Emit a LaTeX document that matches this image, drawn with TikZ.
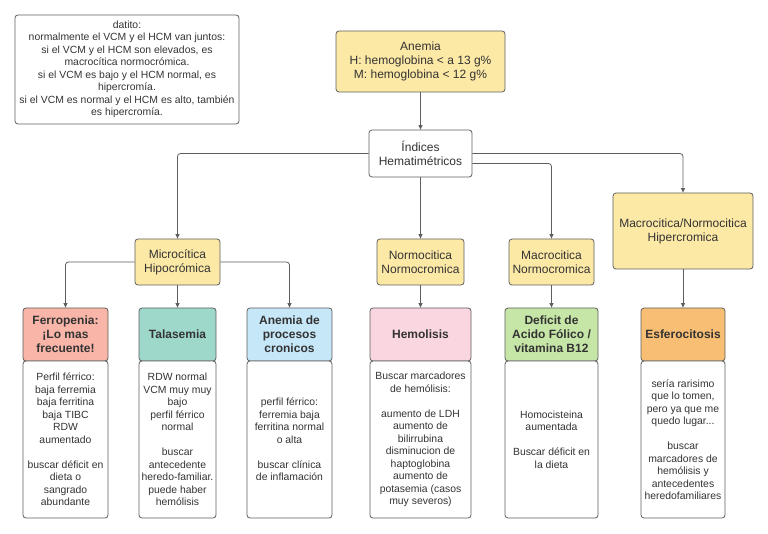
\documentclass[tikz,border=0pt]{standalone}
\usepackage{fontspec}
\setmainfont{Liberation Sans}
\usetikzlibrary{arrows.meta}
\definecolor{linec}{HTML}{5E5E5E}
\definecolor{txt}{HTML}{333333}
\definecolor{yel}{HTML}{FDE9A6}
\definecolor{salmon}{HTML}{F8B5A8}
\definecolor{teal}{HTML}{9DD8CB}
\definecolor{lblue}{HTML}{C6E7F8}
\definecolor{pink}{HTML}{FAD7E0}
\definecolor{lgreen}{HTML}{C6E6A8}
\definecolor{orng}{HTML}{F7BE74}
\tikzset{
  box/.style={draw=linec, line width=0.8pt, rounded corners=3pt, align=center, inner sep=0pt, text=txt, font=\fontsize{12}{14}\selectfont},
  small/.style={font=\fontsize{10.4}{12.5}\selectfont},
  head/.style={box, font=\bfseries\fontsize{12}{14}\selectfont},
  arr/.style={draw=linec, line width=0.8pt, rounded corners=3pt, -{Triangle[length=4.5pt,width=4pt]}},
}
\begin{document}
\begin{tikzpicture}[x=1pt,y=-1pt]
\useasboundingbox (0,0) rectangle (768,534);
% note
\node[box, small, minimum width=224pt, minimum height=109pt] (note) at (127,69.5)
 {datito:\\normalmente el VCM y el HCM van juntos:\\si el VCM y el HCM son elevados, es\\macrocítica normocrómica.\\si el VCM es bajo y el HCM normal, es\\hipercromía.\\si el VCM es normal y el HCM es alto, también\\es hipercromía.};
% top
\node[box, fill=yel, minimum width=169pt, minimum height=61pt] (anemia) at (420.5,61.5)
 {Anemia\\H: hemoglobina < a 13 g\%\\M: hemoglobina < 12 g\%};
\node[box, fill=white, minimum width=103pt, minimum height=47pt] (ind) at (420.5,153.5)
 {Índices\\Hematimétricos};
% middle
\node[box, fill=yel, minimum width=85pt, minimum height=46pt] (mic) at (177.5,262) {Microcítica\\Hipocrómica};
\node[box, fill=yel, minimum width=87pt, minimum height=46pt] (nor) at (420.5,262) {Normocitica\\Normocromica};
\node[box, fill=yel, minimum width=85pt, minimum height=46pt] (mac) at (551.5,262) {Macrocitica\\Normocromica};
\node[box, fill=yel, minimum width=140pt, minimum height=76pt] (hyp) at (683,231) {Macrocitica/Normocitica\\Hipercromica};
% bottom headers
\node[head, fill=salmon, minimum width=85pt, minimum height=53pt] (ferh) at (65.5,334.5) {Ferropenia:\\¡Lo mas\\frecuente!};
\node[head, fill=teal, minimum width=77pt, minimum height=53pt] (talh) at (177.5,334.5) {Talasemia};
\node[head, fill=lblue, minimum width=85pt, minimum height=53pt] (apch) at (289.5,334.5) {Anemia de\\procesos\\cronicos};
\node[head, fill=pink, minimum width=101pt, minimum height=53pt] (hemh) at (420.5,334.5) {Hemolisis};
\node[head, fill=lgreen, minimum width=93pt, minimum height=53pt] (defh) at (551.5,334.5) {Deficit de\\Acido Fólico /\\vitamina B12};
\node[head, fill=orng, minimum width=84pt, minimum height=53pt] (esfh) at (683,334.5) {Esferocitosis};
% bottom bodies
\node[box, small, fill=white, minimum width=85pt, minimum height=157pt] (ferb) at (65.5,439.5)
 {Perfil férrico:\\baja ferremia\\baja ferritina\\baja TIBC\\RDW\\aumentado\\[12.5pt]buscar déficit en\\dieta o\\sangrado\\abundante};
\node[box, small, fill=white, minimum width=77pt, minimum height=157pt] (talb) at (177.5,439.5)
 {RDW normal\\VCM muy muy\\bajo\\perfil férrico\\normal\\[12.5pt]buscar\\antecedente\\heredo-familiar.\\puede haber\\hemólisis};
\node[box, small, fill=white, minimum width=85pt, minimum height=157pt] (apcb) at (289.5,439.5)
 {perfil férrico:\\ferremia baja\\ferritina normal\\o alta\\[12.5pt]buscar clínica\\de inflamación};
\node[box, small, fill=white, minimum width=101pt, minimum height=157pt] (hemb) at (420.5,439.5)
 {Buscar marcadores\\de hemólisis:\\[12.5pt]aumento de LDH\\aumento de\\bilirrubina\\disminucion de\\haptoglobina\\aumento de\\potasemia (casos\\muy severos)};
\node[box, small, fill=white, minimum width=93pt, minimum height=157pt] (defb) at (551.5,439.5)
 {Homocisteina\\aumentada\\[12.5pt]Buscar déficit en\\la dieta};
\node[box, small, fill=white, minimum width=84pt, minimum height=157pt] (esfb) at (683,439.5)
 {sería rarisimo\\que lo tomen,\\pero ya que me\\quedo lugar...\\[12.5pt]buscar\\marcadores de\\hemólisis y\\antecedentes\\heredofamiliares};
% connectors
\draw[arr] (anemia.south) -- (ind.north);
\draw[arr] (ind.west) -| (mic.north);
\draw[arr] (ind.south) -- (nor.north);
\draw[arr] (ind.east) -| (hyp.north);
\draw[arr] ([yshift=-10pt]ind.east) -| (mac.north);
\draw[arr] (mic.west) -| (ferh.north);
\draw[arr] (mic.south) -- (talh.north);
\draw[arr] (mic.east) -| (apch.north);
\draw[arr] (nor.south) -- (hemh.north);
\draw[arr] (mac.south) -- (defh.north);
\draw[arr] (hyp.south) -- (esfh.north);
\end{tikzpicture}
\end{document}
